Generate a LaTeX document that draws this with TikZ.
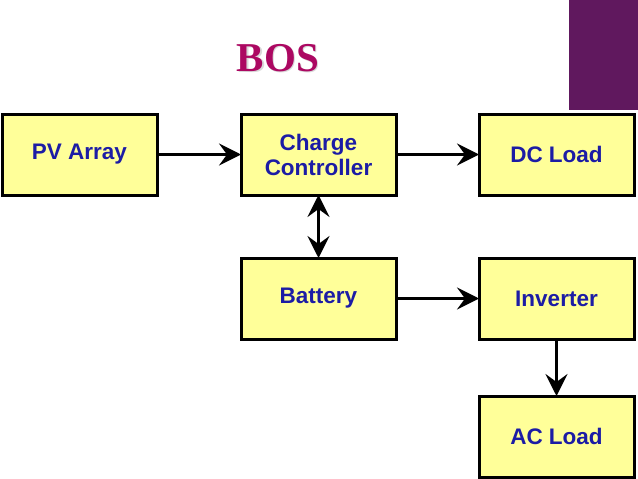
\documentclass[tikz,border=0pt]{standalone}
\usepackage{fontspec}
\setmainfont{Liberation Serif}
\setsansfont{Liberation Sans}
\usepackage{tikz}
\usetikzlibrary{positioning,arrows.meta}
\definecolor{BoxYellow}{RGB}{255,255,153}
\definecolor{LabelBlue}{RGB}{28,28,165}
\definecolor{TitleMagenta}{RGB}{172,8,98}
\definecolor{CornerPurple}{RGB}{96,24,94}

\begin{document}
\begin{tikzpicture}[
  x=1pt, y=-1pt,
  node distance=63pt and 83pt,
  every node/.style={font=\sffamily\bfseries\fontsize{22.5pt}{25pt}\selectfont},
  bosbox/.style={draw=black, fill=BoxYellow, line width=3pt, text=LabelBlue, align=center, minimum width=155pt, minimum height=81pt, inner sep=0pt, outer sep=0pt},
  arrow/.style={-{Stealth[length=22pt,width=22pt,inset=8pt]}, line width=2.5pt, black},
  dblarrow/.style={{Stealth[length=22pt,width=22pt,inset=8pt]}-{Stealth[length=22pt,width=22pt,inset=8pt]}, line width=2.5pt, black}
]
\useasboundingbox (0,0) rectangle (638,479);
\fill[CornerPurple] (569,0) rectangle (638,110);

% title
\node[text=gray!30, font=\rmfamily\bfseries\fontsize{41pt}{44pt}\selectfont] (titleshadow) at (279.5,59.5) {BOS};
\node[text=TitleMagenta, font=\rmfamily\bfseries\fontsize{41pt}{44pt}\selectfont] (title) at (278,58) {BOS};

% blocks
\node[bosbox] (pv) at (79.5,154.5) {PV Array};
\node[bosbox, right=84pt of pv] (cc) {Charge\\Controller};
\node[bosbox, right=of cc] (dc) {DC Load};
\node[bosbox, below=of cc] (bat) {Battery};
\node[bosbox, right=of bat] (inv) {Inverter};
\node[bosbox, below=57pt of inv] (ac) {AC Load};

\draw[arrow] (pv) -- (cc);
\draw[arrow] (cc) -- (dc);
\draw[dblarrow] (cc) -- (bat);
\draw[arrow] (bat) -- (inv);
\draw[arrow] (inv) -- (ac);
\end{tikzpicture}
\end{document}
